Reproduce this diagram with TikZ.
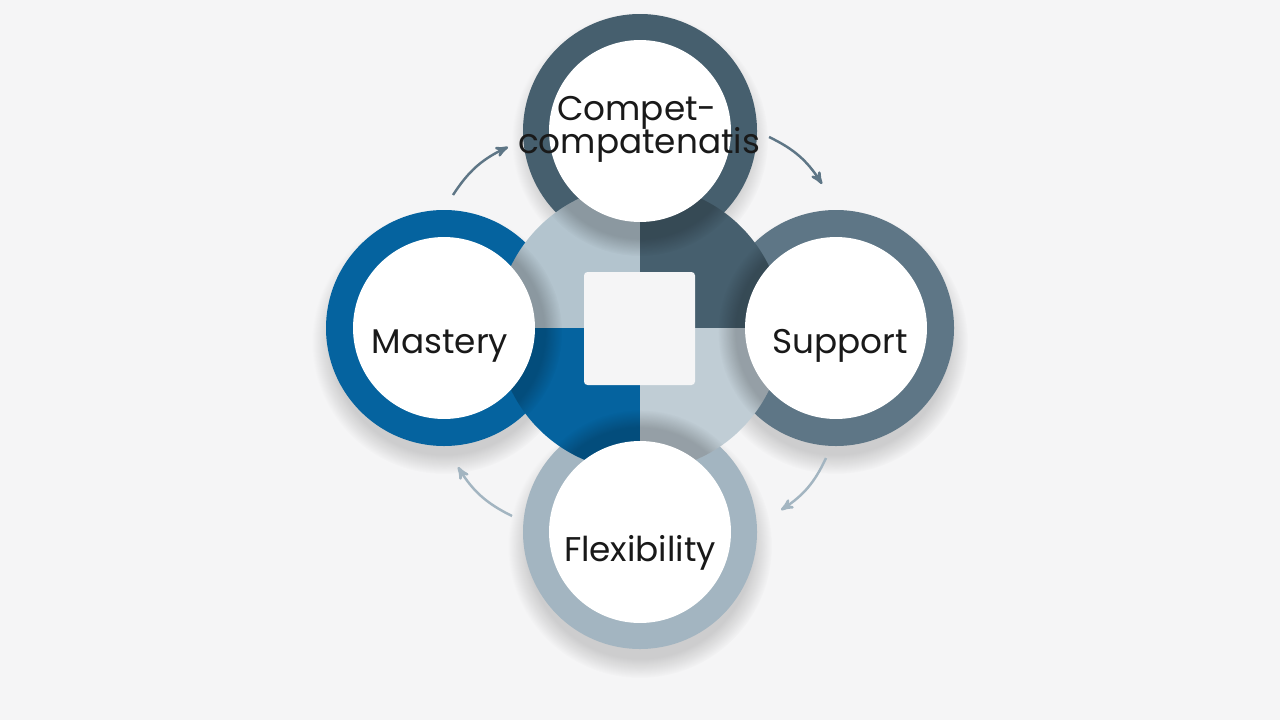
\documentclass[tikz,border=0pt]{standalone}
\usepackage{fontspec}
\setmainfont{Poppins}
\usepackage{xcolor}
\usetikzlibrary{arrows,fadings}
\definecolor{pagebg}{HTML}{F5F5F6}
\definecolor{slate}{HTML}{465F6E}
\definecolor{deepblue}{HTML}{05639F}
\definecolor{steel}{HTML}{5E7686}
\definecolor{haze}{HTML}{A3B5C1}
\definecolor{paleTL}{HTML}{B3C4CE}
\definecolor{paleBR}{HTML}{C0CDD5}
\tikzset{
  whitedisc/.style={circle,fill=white,minimum size=3.64cm,inner sep=0pt},
  softshadow/.style={fill=black,opacity=.16,path fading=circle with fuzzy edge 15 percent},
  ringlabel/.style={font=\fontsize{19.5pt}{23pt}\selectfont,text=black!90,inner sep=0pt},
  cyclearrow/.style={->,line width=1.4pt,bend left=16}
}
\begin{document}
\begin{tikzpicture}[x=0.02cm,y=-0.02cm,>=stealth']
  \useasboundingbox (0,0) rectangle (1280,720);
  \fill[pagebg] (0,0) rectangle (1280,720);
  % shadows under the rings
  \fill[softshadow] (640,140) circle (128);
  \fill[softshadow] (444,342) circle (132);
  \fill[softshadow] (836,342) circle (132);
  \fill[softshadow] (640,546) circle (132);
  % rings
  \fill[slate] (640,131) circle (117);
  \fill[deepblue] (444,328) circle (118);
  \fill[steel] (836,328) circle (118);
  \fill[haze] (640,532) circle (117);
  % middle disc in four parts
  \begin{scope}
    \clip (640,328) circle (143);
    \fill[paleTL] (490,180) rectangle (640,328);
    \fill[slate] (640,180) rectangle (790,328);
    \fill[deepblue] (490,328) rectangle (640,480);
    \fill[paleBR] (640,328) rectangle (790,480);
    % shadows of the white discs on the parts
    \fill[softshadow,opacity=.22] (640,138) circle (118);
    \fill[softshadow,opacity=.22] (444,332) circle (118);
    \fill[softshadow,opacity=.22] (836,332) circle (118);
    \fill[softshadow,opacity=.22] (640,528) circle (118);
  \end{scope}
  \fill[pagebg,rounded corners=2pt] (584,272) rectangle (695,385);
  % white discs
  \node[whitedisc] (top) at (640,131) {};
  \node[whitedisc] (left) at (444,328) {};
  \node[whitedisc] (right) at (836,328) {};
  \node[whitedisc] (bottom) at (640,532) {};
  % labels
  \node[ringlabel] (compet) at (637,113) {Compet-};
  \node[ringlabel] (compat) at (639,145) {compatenatis};
  \node[ringlabel] (mastery) at (440,346) {Mastery};
  \node[ringlabel] (support) at (840,346) {Support};
  \node[ringlabel] (flex) at (640,553) {Flexibility};
  % arrows between the rings
  \coordinate (a1) at (453,195);
  \coordinate (a2) at (508,147);
  \coordinate (b1) at (769,137);
  \coordinate (b2) at (822,184);
  \coordinate (c1) at (826,458);
  \coordinate (c2) at (781,510);
  \coordinate (d1) at (512,516);
  \coordinate (d2) at (458,467);
  \draw[cyclearrow,color=steel] (a1) to (a2);
  \draw[cyclearrow,color=steel] (b1) to (b2);
  \draw[cyclearrow,color=haze] (c1) to (c2);
  \draw[cyclearrow,color=haze] (d1) to (d2);
\end{tikzpicture}
\end{document}
